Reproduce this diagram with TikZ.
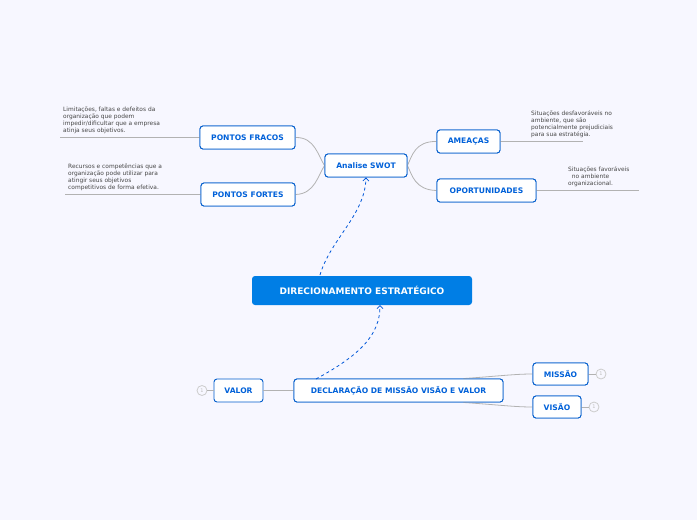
\documentclass[tikz,border=0pt]{standalone}
\usepackage{fontspec}
\setmainfont{DejaVu Sans}
\usetikzlibrary{arrows.meta}
\begin{document}
\begin{tikzpicture}[x=1pt,y=-1pt,
 box/.style={draw=blue!55!cyan!80!black,fill=white,rounded corners=3pt,line width=0.9pt,font=\bfseries\fontsize{7.6}{9}\selectfont,text=blue!55!cyan!85!black,inner sep=0pt,minimum height=23pt},
 note/.style={font=\fontsize{5.9}{6.9}\selectfont,text=black!72,align=left,anchor=south west,inner sep=0pt},
 gl/.style={draw=black!30,line width=0.8pt},
 dsh/.style={draw=blue!60!cyan!85!black,dashed,line width=0.8pt,-{Straight Barb[length=3pt]}},
 num/.style={circle,draw=black!20,line width=0.8pt,text=black!25,font=\fontsize{5}{5}\selectfont,inner sep=0pt,minimum size=10pt}]
\fill[blue!3] (0,0) rectangle (697,520);
\useasboundingbox (0,0) rectangle (697,520);
\node[box,minimum width=95pt] (fr) at (247.5,137.5) {PONTOS FRACOS};
\node[box,minimum width=94pt] (fo) at (248,194.5) {PONTOS FORTES};
\node[box,minimum width=82pt] (sw) at (366,165.5) {Analise SWOT};
\node[box,minimum width=63pt] (am) at (468.5,141.5) {AMEAÇAS};
\node[box,minimum width=99pt] (op) at (486.5,190.5) {OPORTUNIDADES};
\node[box,minimum width=220pt,minimum height=29pt,fill=blue!45!cyan!90!black,draw=none,text=white,font=\bfseries\fontsize{9}{11}\selectfont] (c) at (362,290.5) {DIRECIONAMENTO ESTRATÉGICO};
\node[box,minimum width=209pt] (de) at (398.5,390.5) {DECLARAÇÃO DE MISSÃO VISÃO E VALOR};
\node[box,minimum width=49pt] (va) at (238.5,390.5) {VALOR};
\node[box,minimum width=55pt,minimum height=22pt] (mi) at (560.5,374) {MISSÃO};
\node[box,minimum width=48pt,minimum height=22pt] (vi) at (557,407) {VISÃO};
\node[num] (n1) at (202,390.5) {1};
\node[num] (n2) at (601,374) {1};
\node[num] (n3) at (594,407) {1};
\coordinate (lf) at (60,137.5);
\coordinate (lo) at (65,194.5);
\coordinate (la) at (583,141.5);
\coordinate (lp) at (639,190.5);
\coordinate (cb) at (380,305);
\coordinate (ct) at (320,275);
\coordinate (dt) at (316,379);
\draw[gl] (fr.west) -- (lf);
\draw[gl] (fo.west) -- (lo);
\draw[gl] (am.east) -- (la);
\draw[gl] (op.east) -- (lp);
\draw[gl] (fr.east) .. controls (315,137) and (318,156) .. (sw.west);
\draw[gl] (fo.east) .. controls (315,194) and (318,175) .. (sw.west);
\draw[gl] (am.west) .. controls (415,141) and (412,156) .. (sw.east);
\draw[gl] (op.west) .. controls (415,190) and (412,175) .. (sw.east);
\draw[gl] (va.east) -- (de.west);
\draw[gl] ([xshift=-40pt]de.north east) .. controls (500,376) and (515,374) .. (mi.west);
\draw[gl] ([xshift=-40pt]de.south east) .. controls (500,405) and (515,407) .. (vi.west);
\draw[gl] (n1) -- (va.west);
\draw[gl] (n2) -- (mi.east);
\draw[gl] (n3) -- (vi.east);
\node[box,minimum width=95pt] at (fr) {PONTOS FRACOS};
\node[box,minimum width=94pt] at (fo) {PONTOS FORTES};
\node[box,minimum width=82pt] at (sw) {Analise SWOT};
\node[box,minimum width=63pt] at (am) {AMEAÇAS};
\node[box,minimum width=99pt] at (op) {OPORTUNIDADES};
\node[box,minimum width=209pt] at (de) {DECLARAÇÃO DE MISSÃO VISÃO E VALOR};
\node[box,minimum width=55pt,minimum height=22pt] at (mi) {MISSÃO};
\node[box,minimum width=48pt,minimum height=22pt] at (vi) {VISÃO};
\draw[dsh] (ct) .. controls (330,240) and (365,215) .. (sw.south);
\draw[dsh] (dt) .. controls (360,355) and (380,335) .. (cb);
\node[note] at (63,134) {Limitações, faltas e defeitos da\\organização que podem\\impedir/dificultar que a empresa\\atinja seus objetivos.};
\node[note] at (68,191) {Recursos e competências que a\\organização pode utilizar para\\atingir seus objetivos\\competitivos de forma efetiva.};
\node[note] at (531,138) {Situações desfavoráveis no\\ambiente, que são\\potencialmente prejudiciais\\para sua estratégia.};
\node[note] at (568,187) {Situações favoráveis\\\ \ no ambiente\\organizacional.};
\end{tikzpicture}
\end{document}
